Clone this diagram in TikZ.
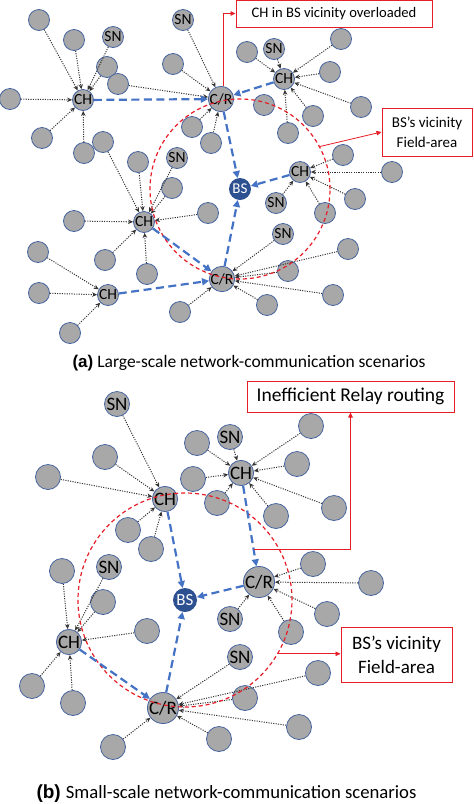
\documentclass[tikz,border=0pt]{standalone}
\usepackage{fontspec}
\setmainfont{Carlito}
\newfontfamily\arialfont{Liberation Sans}
\usetikzlibrary{arrows.meta,calc}

\definecolor{linkblue}{RGB}{68,114,196}
\definecolor{bsblue}{RGB}{45,80,145}
\definecolor{ringred}{RGB}{230,30,40}
\definecolor{nodegray}{RGB}{168,168,168}
\definecolor{rimblue}{RGB}{70,100,160}

\tikzset{
  sat/.style={circle, draw=rimblue, fill=nodegray, line width=0.8pt, minimum size=21pt,
    inner sep=0pt, font=\fontsize{15.5}{15.5}\selectfont},
  hub/.style={sat},
  base/.style={circle, fill=bsblue, minimum size=22pt, inner sep=0pt, text=white,
    font=\fontsize{15}{15}\selectfont},
  feed/.style={draw=black!80, line width=1pt, dash pattern=on 1.1pt off 1.3pt,
    -{Stealth[length=5pt,width=4.5pt]}},
  relay/.style={draw=linkblue, line width=2.2pt, dash pattern=on 8pt off 4.5pt,
    -{Triangle[length=7pt,width=7pt]}},
  ring/.style={circle, draw=ringred, line width=1.2pt, dash pattern=on 4pt off 3pt, inner sep=0pt},
  note/.style={draw=ringred, line width=0.8pt, -{Triangle[length=5pt,width=4.5pt]}},
  notebox/.style={draw=ringred, line width=1pt, fill=white, inner sep=0pt, align=center,
    font=\fontsize{15}{20}\selectfont}
}

\begin{document}
\begin{tikzpicture}[x=1pt,y=-1pt]
\useasboundingbox (0,0) rectangle (474,804);

%%%%% (a) LARGE SCALE %%%%%

\node[hub] (ch1) at (83,100) {CH};
\node[hub] (cr1) at (221,99) {C/R};
\node[hub] (ch2) at (284,79) {CH};
\node[hub] (ch3) at (300,172) {CH};
\node[hub] (ch4) at (144,222) {CH};
\node[hub] (ch5) at (108,295) {CH};
\node[hub] (cr2) at (222,279) {C/R};
\node[base] (bsa) at (240,189) {BS};

\node[sat] (a1) at (39,20) {};
\node[sat] (a2) at (74,40) {};
\node[sat] (a3) at (113,37) {SN};
\node[sat] (a4) at (107,67) {};
\node[sat] (a5) at (118,84) {};
\node[sat] (a6) at (10,99) {};
\node[sat] (a7) at (42,138) {};
\node[sat] (a8) at (84,153) {};
\node[sat] (a9) at (103,142) {};
\node[sat] (a10) at (138,162) {};
\node[sat] (a11) at (177,158) {SN};
\node[sat] (a12) at (183,20) {SN};
\node[sat] (a13) at (173,64) {};
\node[sat] (a14) at (192,127) {};
\node[sat] (a15) at (211,143) {};
\node[sat] (a16) at (247,52) {};
\node[sat] (a17) at (274,49) {SN};
\node[sat] (a18) at (341,39) {};
\node[sat] (a19) at (330,72) {};
\node[sat] (a20) at (361,107) {};
\node[sat] (a21) at (264,105) {};
\node[sat] (a22) at (313,116) {};
\node[sat] (a23) at (288,133) {};
\node[sat] (a24) at (343,155) {};
\node[sat] (a25) at (392,172) {};
\node[sat] (a26) at (276,203) {SN};
\node[sat] (a27) at (355,199) {};
\node[sat] (a28) at (325,213) {};
\node[sat] (a29) at (172,188) {};
\node[sat] (a30) at (208,213) {};
\node[sat] (a31) at (74,221) {};
\node[sat] (a32) at (105,260) {};
\node[sat] (a33) at (147,274) {};
\node[sat] (a34) at (38,252) {};
\node[sat] (a35) at (39,293) {};
\node[sat] (a36) at (70,333) {};
\node[sat] (a37) at (180,312) {};
\node[sat] (a38) at (283,234) {SN};
\node[sat] (a39) at (348,249) {};
\node[sat] (a40) at (288,271) {};
\node[sat] (a41) at (333,295) {};
\node[sat] (a42) at (267,305) {};

\foreach \s/\t in {a1/ch1,a2/ch1,a3/ch1,a4/ch1,a6/ch1,a7/ch1,a8/ch1,
  a5/cr1,a12/cr1,a13/cr1,a14/cr1,a15/cr1,
  a16/ch2,a17/ch2,a18/ch2,a19/ch2,a20/ch2,a22/ch2,a23/ch2,
  a24/ch3,a25/ch3,a26/ch3,a27/ch3,a28/ch3,
  a9/ch4,a10/ch4,a11/ch4,a29/ch4,a30/ch4,a31/ch4,a32/ch4,a33/ch4,
  a34/ch5,a35/ch5,a36/ch5,
  a37/cr2,a38/cr2,a39/cr2,a40/cr2,a41/cr2,a42/cr2}
  \draw[feed] (\s) -- (\t);

\node[ring, minimum size=180pt] (ringa) at (bsa) {};

\draw[relay] (ch1) -- (cr1);
\draw[relay] (ch2) -- (cr1);
\draw[relay] (cr1) -- (bsa);
\draw[relay] (ch3) -- (bsa);
\draw[relay] (ch4) -- (cr2);
\draw[relay] (ch5) -- (cr2);
\draw[relay] (cr2) -- (bsa);

\node[notebox, minimum width=196pt, minimum height=27pt, font=\fontsize{14.6}{14.6}\selectfont] (ovl) at (334,13.5) {CH in BS vicinity overloaded};
\draw[note] (cr1.80) |- (ovl.west);
\node[notebox, minimum width=90pt, minimum height=48pt] (fielda) at (427,132) {BS’s vicinity\\Field-area};
\draw[note] (ringa.28) -- (fielda.west);

\node[anchor=base west, font=\fontsize{17.5}{17.5}\selectfont] (capa) at (69,367)
  {{\arialfont\bfseries\fontsize{17}{17}\selectfont (a)}\hspace{4pt}Large-scale network-communication scenarios};

%%%%% (b) SMALL SCALE %%%%%

\begin{scope}[sat/.append style={minimum size=25pt, font=\fontsize{19}{19}\selectfont},
  base/.append style={minimum size=24pt, font=\fontsize{17}{17}\selectfont},
  notebox/.append style={font=\fontsize{19}{24}\selectfont}]

\node[hub] (chb1) at (165,499) {CH};
\node[hub] (chb2) at (241,473) {CH};
\node[hub] (crb1) at (259,582) {C/R};
\node[hub] (chb3) at (69,642) {CH};
\node[hub] (crb2) at (163,708) {C/R};
\node[base] (bsb) at (185,600) {BS};

\node[sat] (b1) at (117,404) {SN};
\node[sat] (b2) at (105,457) {};
\node[sat] (b3) at (48,477) {};
\node[sat] (b4) at (128,530) {};
\node[sat] (b5) at (151,549) {};
\node[sat] (b6) at (197,443) {};
\node[sat] (b7) at (230,437) {SN};
\node[sat] (b8) at (193,479) {};
\node[sat] (b9) at (217,503) {};
\node[sat] (b10) at (311,426) {};
\node[sat] (b11) at (297,464) {};
\node[sat] (b12) at (334,508) {};
\node[sat] (b13) at (276,516) {};
\node[sat] (b14) at (313,564) {};
\node[sat] (b15) at (371,583) {};
\node[sat] (b16) at (230,619) {SN};
\node[sat] (b17) at (327,614) {};
\node[sat] (b18) at (291,632) {};
\node[sat] (b19) at (62,571) {};
\node[sat] (b20) at (109,567) {SN};
\node[sat] (b21) at (103,602) {};
\node[sat] (b22) at (147,631) {};
\node[sat] (b23) at (32,686) {};
\node[sat] (b24) at (73,703) {};
\node[sat] (b25) at (113,747) {};
\node[sat] (b26) at (219,739) {};
\node[sat] (b27) at (240,657) {SN};
\node[sat] (b28) at (318,673) {};
\node[sat] (b29) at (245,698) {};
\node[sat] (b30) at (299,727) {};

\foreach \s/\t in {b1/chb1,b2/chb1,b3/chb1,b4/chb1,b5/chb1,
  b6/chb2,b7/chb2,b8/chb2,b9/chb2,b10/chb2,b11/chb2,b12/chb2,b13/chb2,
  b14/crb1,b15/crb1,b16/crb1,b17/crb1,b18/crb1,
  b19/chb3,b20/chb3,b21/chb3,b22/chb3,b23/chb3,b24/chb3,
  b25/crb2,b26/crb2,b27/crb2,b28/crb2,b29/crb2,b30/crb2}
  \draw[feed] (\s) -- (\t);

\node[ring, minimum size=214pt] (ringb) at (bsb) {};

\draw[relay] (chb1) -- (bsb);
\draw[relay] (chb2) -- (crb1);
\draw[relay] (crb1) -- (bsb);
\draw[relay] (chb3) -- (crb2);
\draw[relay] (crb2) -- (bsb);

\node[notebox, minimum width=207pt, minimum height=31pt, font=\fontsize{19.5}{19.5}\selectfont] (relaybox) at (350.5,396.5) {Inefficient Relay routing};
\coordinate (rr) at ($(chb2)!0.7!(crb1)$);
\draw[note] (rr) -| (relaybox.south);
\node[notebox, minimum width=111pt, minimum height=55pt] (fieldb) at (396.5,654.5) {BS’s vicinity\\Field-area};
\draw[note] (ringb.-30) -- (ringb.-30 -| fieldb.west);

\node[anchor=base west, font=\fontsize{18.7}{18.7}\selectfont] (capb) at (33,798)
  {{\arialfont\bfseries\fontsize{19}{19}\selectfont (b)}\hspace{5pt}Small-scale network-communication scenarios};
\end{scope}

\end{tikzpicture}
\end{document}
